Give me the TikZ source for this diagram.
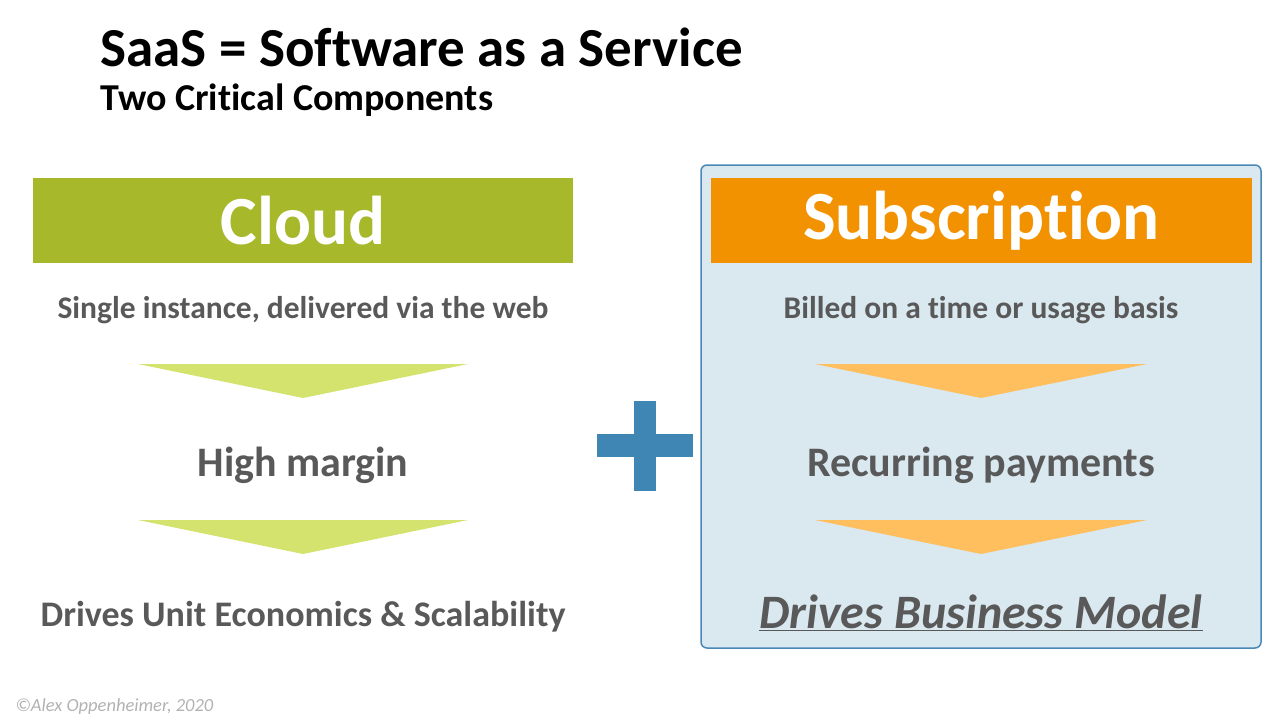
\documentclass[tikz,border=0pt]{standalone}
\usepackage{fontspec}
\setmainfont{Carlito}[Ligatures={NoCommon}]
\definecolor{cgreen}{HTML}{A7B82A}
\definecolor{corange}{HTML}{F39200}
\definecolor{cblue}{HTML}{DAE8F0}
\definecolor{cbord}{HTML}{4A88B5}
\definecolor{cplus}{HTML}{3F86B4}
\definecolor{tgreen}{HTML}{D4E26E}
\definecolor{torange}{HTML}{FFBF5F}
\definecolor{tx}{HTML}{595959}
\begin{document}
\begin{tikzpicture}[x=1pt,y=-1pt,
  body/.style={text=tx,font=\bfseries\fontsize{31.5}{34}\selectfont},
  head/.style={text=white,font=\bfseries\fontsize{69}{74}\selectfont}]
\useasboundingbox (0,0) rectangle (1280,720);
\node[anchor=base west,font=\bfseries\fontsize{55}{60}\selectfont] (t) at (97,66) {SaaS = Software as a Service};
\node[anchor=base west,font=\bfseries\fontsize{38}{42}\selectfont] (st) at (97,110) {Two Critical Components};
\draw[cbord,fill=cblue,line width=1.5pt,rounded corners=6pt] (701,165) rectangle (1261,648);
\fill[cgreen] (33,178) rectangle (573,263);
\fill[corange] (711,178) rectangle (1252,263);
\node[head] (c) at (303,221) {Cloud};
\node[head] (s) at (981,221) {Subscription};
\node[body] (c1) at (303,310) {Single instance, delivered via the web};
\node[body] (s1) at (981,310) {Billed on a time or usage basis};
\fill[tgreen] (138,364) -- (468,364) -- (303,398) -- cycle;
\fill[tgreen] (138,520) -- (468,520) -- (303,554) -- cycle;
\fill[torange] (815,364) -- (1147,364) -- (981,398) -- cycle;
\fill[torange] (815,520) -- (1147,520) -- (981,554) -- cycle;
\node[body,font=\bfseries\fontsize{42}{46}\selectfont] (c2) at (303,465) {High margin};
\node[body,font=\bfseries\fontsize{42}{46}\selectfont] (s2) at (981,465) {Recurring payments};
\node[body,font=\bfseries\fontsize{36}{40}\selectfont] (c3) at (303,617) {Drives Unit Economics \& Scalability};
\node[body,font=\bfseries\itshape\fontsize{48}{52}\selectfont] (s3) at (981,613) {\underline{Drives Business Model}};
\fill[cplus] (634,401) rectangle (656,491);
\fill[cplus] (597,434) rectangle (693,457);
\node[anchor=base west,text=black!30,font=\itshape\fontsize{18.5}{20}\selectfont] (cp) at (12,711) {©Alex Oppenheimer, 2020};
\end{tikzpicture}
\end{document}
